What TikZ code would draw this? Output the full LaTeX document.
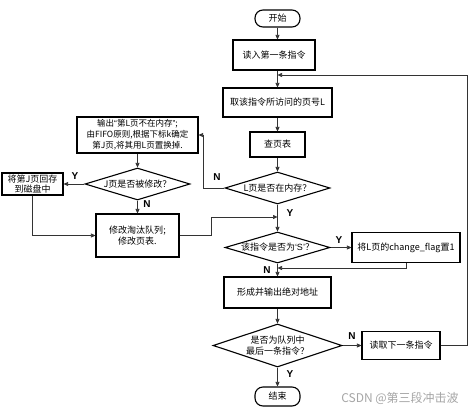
\documentclass[tikz,border=0pt]{standalone}
\usepackage{fontspec}
\setmainfont{Noto Sans CJK SC}
\newfontfamily\labfont{Liberation Sans}
\usetikzlibrary{shapes.geometric,arrows.meta}
\begin{document}
\begin{tikzpicture}[x=1pt,y=-1pt,
 every node/.style={font=\fontsize{9}{11}\selectfont},
 box/.style={draw=black,line width=1.1pt,rectangle,inner sep=1pt,align=center},
 term/.style={box,rounded corners=8pt},
 dia/.style={draw=black,line width=1.1pt,diamond,inner sep=0pt},
 conn/.style={draw=black!80,line width=0.7pt,-{Triangle[length=4.5pt,width=4pt]}},
 yn/.style={font=\labfont\bfseries\fontsize{10}{12}\selectfont,inner sep=0pt}
]
\fill[white] (0,0) rectangle (474,413);
\useasboundingbox (0,0) rectangle (474,413);

% nodes
\node[term,minimum width=45,minimum height=17] (start) at (277.5,18.5) {开始};
\node[box,minimum width=82,minimum height=30] (read1) at (274,55) {读入第一条指令};
\node[box,minimum width=109,minimum height=29] (getL) at (277.5,102.5) {取该指令所访问的页号L};
\node[box,minimum width=55,minimum height=25] (chk) at (277.5,144.5) {查页表};
\node[dia,minimum width=105,minimum height=32,label={[name=tL]center:L页是否在内存？}] (dL) at (277.5,188) {};
\node[box,minimum width=121,minimum height=36,font=\fontsize{8.5}{11}\selectfont] (out) at (137.5,135) {输出{\labfont“}第L页不在内存{\labfont”};\\由FIFO原则,根据下标k确定\\第J页,将其用L页置换掉.};
\node[dia,minimum width=105,minimum height=32,label={[name=tJ]center:J页是否被修改？}] (dJ) at (137.5,184) {};
\node[box,minimum width=61,minimum height=22,font=\fontsize{9}{10.5}\selectfont] (wb) at (32.5,184) {将第J页回存\\到磁盘中};
\node[box,minimum width=83,minimum height=43] (upd) at (137.5,235.5) {修改淘汰队列;\\修改页表.};
\node[dia,minimum width=105,minimum height=31,label={[name=tS]center:该指令是否为{\labfont‘S’}？}] (dS) at (277.5,247.5) {};
\node[box,minimum width=108,minimum height=30] (flag) at (406,247.5) {将L页的change\_flag置1};
\node[box,minimum width=107,minimum height=31] (form) at (277.5,292.5) {形成并输出绝对地址};
\node[dia,minimum width=129,minimum height=43,label={[name=tLast,align=center]center:是否为队列中\\最后一条指令？}] (dLast) at (277.5,345.5) {};
\node[box,minimum width=78,minimum height=28] (next) at (401,345.5) {读取下一条指令};
\node[term,minimum width=45,minimum height=19] (end) at (277.5,396.5) {结束};
\node[font=\fontsize{12}{14}\selectfont,text=black!35] (wm) at (400,398) {CSDN @第三段冲击波};

% join points
\coordinate (m0) at (277.5,75);
\coordinate (m1) at (277.5,217);
\coordinate (m2) at (277.5,268);

% connectors
\draw[conn] (start.south) -- (start.south |- read1.north);
\draw[conn] (read1.south -| getL.north) -- (getL.north);
\draw[conn] (getL) -- (chk);
\draw[conn] (chk) -- (dL);
\draw[conn] (next.east) -- ++(27,0) |- (m0);
\draw[conn] (dL.west) -- ++(-21,0) |- (out.east);
\draw[conn] (out) -- (dJ);
\draw[conn] (dJ) -- (wb);
\draw[conn] (dJ) -- (upd);
\draw[conn] (wb.south) |- (upd.west);
\draw[conn] (upd.east) -- ++(32,0) |- (m1);
\draw[conn] (dL) -- (dS);
\draw[conn] (dS) -- (flag);
\draw[conn] (flag.south) |- (m2);
\draw[conn] (dS) -- (form);
\draw[conn] (form) -- (dLast);
\draw[conn] (dLast) -- (next);
\draw[conn] (dLast) -- (end);

% labels
\node[yn] (lN1) at (217,177) {N};
\node[yn] (lY1) at (75,176) {Y};
\node[yn] (lN2) at (147,204) {N};
\node[yn] (lY2) at (290,213) {Y};
\node[yn] (lY3) at (339,240) {Y};
\node[yn] (lN3) at (267,270) {N};
\node[yn] (lN4) at (352,336) {N};
\node[yn] (lY4) at (290,374) {Y};
\end{tikzpicture}
\end{document}
